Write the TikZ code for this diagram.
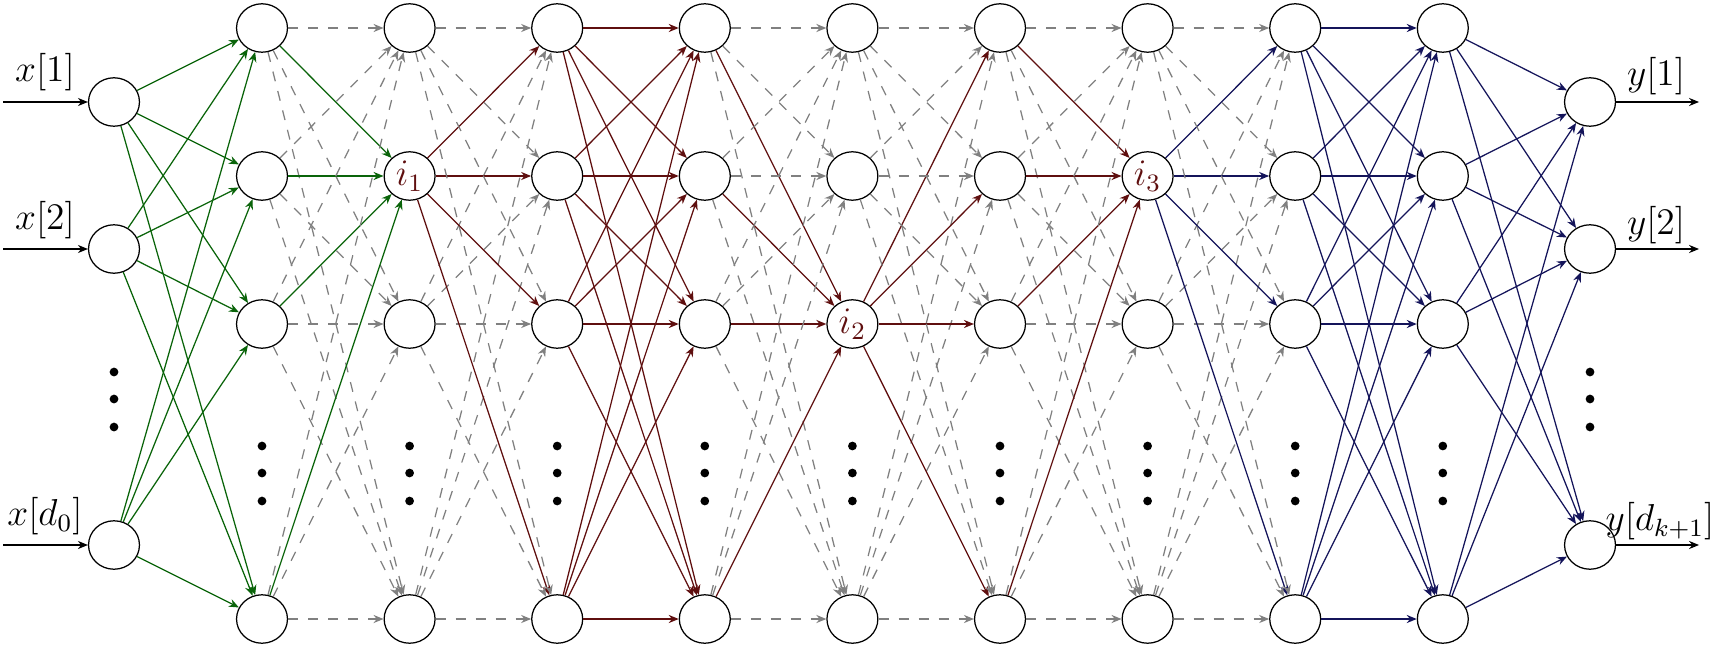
\documentclass[tikz,border=0pt]{standalone}
\usetikzlibrary{shapes.geometric,arrows.meta}
\definecolor{gcol}{RGB}{10,100,10}
\definecolor{rcol}{RGB}{95,15,15}
\definecolor{bcol}{RGB}{20,20,90}
\begin{document}
\begin{tikzpicture}[x=0.32pt,y=-0.32pt,>={Stealth[length=3.2pt,width=2.6pt]},
  neu/.style={draw,ellipse,minimum width=16.3pt,minimum height=15.5pt,inner sep=0pt},
  lab/.style={font=\large},
  ge/.style={->,gcol},re/.style={->,rcol},be/.style={->,bcol},
  de/.style={->,gray,dashed,dash pattern=on 3.2pt off 3.2pt}]
\useasboundingbox (0,0) rectangle (1714,647);
% input
\foreach \r/\y in {1/102,2/249,5/545} \node[neu] (c0-\r) at (114,\y) {};
% hidden
\foreach \c in {1,...,9}{
  \pgfmathsetmacro\xx{262+(\c-1)*147.6}
  \foreach \r/\y in {1/28,2/176,3/324,5/619}
    \node[neu] (c\c-\r) at (\xx,\y) {};
  \foreach \y in {446,473,501} \fill (\xx,\y) circle (1.4pt);
}
\foreach \y in {372,399,427} {\fill (114,\y) circle (1.4pt); \fill (1590,\y) circle (1.4pt);}
% output
\foreach \r/\y in {1/102,2/249,5/545} \node[neu] (c10-\r) at (1590,\y) {};
\node[rcol,lab] at (c2-2) {$i_1$};
\node[rcol,lab] at (c5-3) {$i_2$};
\node[rcol,lab] at (c7-2) {$i_3$};
% in/out arrows and labels
\coordinate (in1) at (3,102); \coordinate (in2) at (3,249); \coordinate (in5) at (3,545);
\coordinate (out1) at (1699,102); \coordinate (out2) at (1699,249); \coordinate (out5) at (1699,545);
\foreach \r in {1,2,5}{\draw[->] (in\r) -- (c0-\r); \draw[->] (c10-\r) -- (out\r);}
\node[lab] (lx1) at (45,72) {$x[1]$};
\node[lab] (lx2) at (45,220) {$x[2]$};
\node[lab] (lx5) at (45,516) {$x[d_0]$};
\node[lab] (ly1) at (1656,76) {$y[1]$};
\node[lab] (ly2) at (1656,225) {$y[2]$};
\node[lab] (ly5) at (1660,521) {$y[d_{k+1}]$};
% layer 1
\foreach \s in {1,2,5} \foreach \t in {1,2,3,5} \draw[ge] (c0-\s) -- (c1-\t);
% layer 2
\foreach \s in {1,2,3,5}{\draw[ge] (c1-\s) -- (c2-2); \foreach \t in {1,3,5} \draw[de] (c1-\s) -- (c2-\t);}
% layer 3
\foreach \t in {1,2,3,5}{\draw[re] (c2-2) -- (c3-\t); \foreach \s in {1,3,5} \draw[de] (c2-\s) -- (c3-\t);}
% layer 4
\foreach \s in {1,2,3,5} \foreach \t in {1,2,3,5} \draw[re] (c3-\s) -- (c4-\t);
% layer 5
\foreach \s in {1,2,3,5}{\draw[re] (c4-\s) -- (c5-3); \foreach \t in {1,2,5} \draw[de] (c4-\s) -- (c5-\t);}
% layer 6
\foreach \t in {1,2,3,5}{\draw[re] (c5-3) -- (c6-\t); \foreach \s in {1,2,5} \draw[de] (c5-\s) -- (c6-\t);}
% layer 7
\foreach \s in {1,2,3,5}{\draw[re] (c6-\s) -- (c7-2); \foreach \t in {1,3,5} \draw[de] (c6-\s) -- (c7-\t);}
% layer 8
\foreach \t in {1,2,3,5}{\draw[be] (c7-2) -- (c8-\t); \foreach \s in {1,3,5} \draw[de] (c7-\s) -- (c8-\t);}
% layer 9
\foreach \s in {1,2,3,5} \foreach \t in {1,2,3,5} \draw[be] (c8-\s) -- (c9-\t);
% layer 10
\foreach \s in {1,2,3,5} \foreach \t in {1,2,5} \draw[be] (c9-\s) -- (c10-\t);
\end{tikzpicture}
\end{document}
